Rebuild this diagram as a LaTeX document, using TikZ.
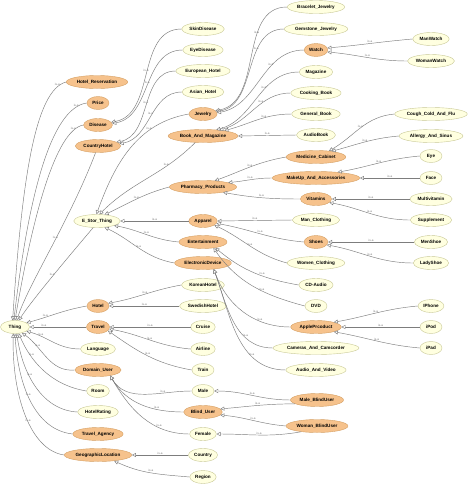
\documentclass[tikz,border=0pt]{standalone}
\usepackage{fontspec}
\setmainfont{Liberation Sans}
\usetikzlibrary{shapes,arrows.meta,positioning,calc}
\definecolor{clsfill}{RGB}{246,194,140}
\definecolor{clsdraw}{RGB}{214,160,100}
\definecolor{leaffill}{RGB}{255,255,224}
\definecolor{leafdraw}{RGB}{200,200,150}
\definecolor{edgegray}{RGB}{125,125,125}

\tikzset{
  base/.style={ellipse,inner xsep=1.5pt,inner ysep=0.5pt,minimum height=13pt,minimum width=22pt,
    font=\fontsize{4.6}{5}\selectfont\bfseries},
  cls/.style={base,draw=clsdraw,fill=clsfill},
  leaf/.style={base,draw=leafdraw,fill=leaffill},
  isa/.style={draw=edgegray,line width=0.45pt,-{Triangle[open,length=4pt,width=4pt,fill=white]}},
  lbl/.style={font=\fontsize{3}{3}\selectfont,text=edgegray,inner sep=0.6pt,above}
}

\begin{document}
\begin{tikzpicture}[x=1pt,y=-1pt]
\fill[white] (0,0) rectangle (474,488);

% root
\node[leaf,minimum width=29pt] (thing) at (15,327) {Thing};

% first level
\node[cls] (hres) at (97,82) {Hotel\_Reservation};
\node[cls] (price) at (98,103) {Price};
\node[cls] (disease) at (98,125) {Disease};
\node[cls] (chotel) at (98,146) {CountryHotel};
\node[leaf] (estor) at (97,221) {E\_Stor\_Thing};
\node[cls] (hotel) at (98,306) {Hotel};
\node[cls] (travel) at (98,327) {Travel};
\node[leaf] (lang) at (98,349) {Language};
\node[cls] (duser) at (98,370) {Domain\_User};
\node[leaf] (room) at (98,391) {Room};
\node[leaf] (hrating) at (98,412) {HotelRating};
\node[cls] (tagency) at (98,434) {Travel\_Agency};
\node[cls] (geo) at (98,455) {GeographicLocation};

% second level
\node[leaf] (skin) at (203,29) {SkinDisease};
\node[leaf] (eyed) at (203,50) {EyeDisease};
\node[leaf] (euro) at (203,71) {European\_Hotel};
\node[leaf] (asian) at (203,92) {Asian\_Hotel};
\node[cls] (jewel) at (203,114) {Jewelry};
\node[cls] (bam) at (203,136) {Book\_And\_Magazine};
\node[cls] (pharm) at (203,187) {Pharmacy\_Products};
\node[cls] (apparel) at (203,221) {Apparel};
\node[cls] (ent) at (203,242) {Entertainment};
\node[cls] (edev) at (203,263) {ElectronicDevice};
\node[leaf] (korean) at (203,285) {KoreanHotel};
\node[leaf] (swedish) at (203,306) {SwedishHotel};
\node[leaf] (cruise) at (203,327) {Cruise};
\node[leaf] (airline) at (203,349) {Airline};
\node[leaf] (train) at (203,370) {Train};
\node[leaf] (male) at (203,391) {Male};
\node[cls] (blind) at (203,412) {Blind\_User};
\node[leaf] (female) at (203,434) {Female};
\node[leaf] (country) at (203,455) {Country};
\node[leaf] (region) at (203,477) {Region};

% third level
\node[leaf] (bracelet) at (316,7) {Bracelet\_Jewelry};
\node[leaf] (gem) at (316,29) {Gemstone\_Jewelry};
\node[cls] (watch) at (316,50) {Watch};
\node[leaf] (magazine) at (316,72) {Magazine};
\node[leaf] (cooking) at (316,93) {Cooking\_Book};
\node[leaf] (general) at (316,114) {General\_Book};
\node[leaf] (audiobook) at (316,135) {AudioBook};
\node[cls] (medcab) at (316,157) {Medicine\_Cabinet};
\node[cls] (makeup) at (316,178) {MakeUp\_And\_Accessories};
\node[cls] (vitamins) at (316,199) {Vitamins};
\node[leaf] (manclo) at (316,220) {Man\_Clothing};
\node[cls] (shoes) at (316,242) {Shoes};
\node[leaf] (womclo) at (316,263) {Women\_Clothing};
\node[leaf] (cdaudio) at (316,285) {CD-Audio};
\node[leaf] (dvd) at (316,306) {DVD};
\node[cls] (apple) at (316,327) {ApplePrcoduct};
\node[leaf] (cameras) at (316,348) {Cameras\_And\_Camcorder};
\node[leaf] (audvid) at (316,370) {Audio\_And\_Video};
\node[cls] (mbu) at (317,400) {Male\_BlindUser};
\node[cls] (wbu) at (317,426) {Woman\_BlindUser};

% fourth level
\node[leaf] (manwatch) at (431,39) {ManWatch};
\node[leaf] (womanwatch) at (431,61) {WomanWatch};
\node[leaf] (cough) at (431,114) {Cough\_Cold\_And\_Flu};
\node[leaf] (allergy) at (431,136) {Allergy\_And\_Sinus};
\node[leaf] (eye) at (431,156) {Eye};
\node[leaf] (face) at (431,178) {Face};
\node[leaf] (multivit) at (431,199) {Multivitamin};
\node[leaf] (supp) at (431,220) {Supplement};
\node[leaf] (menshoe) at (431,242) {MenShoe};
\node[leaf] (ladyshoe) at (431,263) {LadyShoe};
\node[leaf] (iphone) at (431,306) {IPhone};
\node[leaf] (ipod) at (431,327) {iPod};
\node[leaf] (ipad) at (431,348) {iPad};

% is-a links to Thing
\draw[isa] (hres.west) .. controls (35,90) and (22,180) .. node[lbl,pos=0.1]{is-a} (thing.110);
\draw[isa] (price.west) .. controls (50,108) and (28,200) .. node[lbl,pos=0.1]{is-a} (thing.100);
\draw[isa] (disease.west) .. controls (55,130) and (32,220) .. node[lbl,pos=0.12]{is-a} (thing.90);
\draw[isa] (chotel.250) .. controls (70,220) and (28,285) .. node[lbl,pos=0.45]{is-a} (thing.75);
\draw[isa] (estor.240) .. controls (70,255) and (32,300) .. node[lbl,pos=0.5]{is-a} (thing.60);
\draw[isa] (hotel.west) to[out=190,in=15] node[lbl,pos=0.7]{is-a} (thing.20);
\draw[isa] (travel.west) -- node[lbl,pos=0.75]{is-a} (thing.east);
\draw[isa] (lang.west) to[out=180,in=-15] node[lbl,pos=0.75]{is-a} (thing.-20);
\draw[isa] (duser.west) to[out=185,in=-35] node[lbl,pos=0.7]{is-a} (thing.-40);
\draw[isa] (room.west) .. controls (50,385) and (30,360) .. node[lbl,pos=0.7]{is-a} (thing.-60);
\draw[isa] (hrating.west) .. controls (40,410) and (22,370) .. node[lbl,pos=0.6]{is-a} (thing.-75);
\draw[isa] (tagency.west) .. controls (35,430) and (18,385) .. node[lbl,pos=0.55]{is-a} (thing.-90);
\draw[isa] (geo.west) .. controls (30,450) and (12,395) .. node[lbl,pos=0.45]{is-a} (thing.-105);

% second level links
\foreach \c/\a in {skin/12,eyed/6} \draw[isa] (\c.west) to[out=180,in=10] node[lbl]{is-a} (disease.\a);
\foreach \c/\a in {euro/12,asian/6} \draw[isa] (\c.west) to[out=180,in=10] node[lbl]{is-a} (chotel.\a);
\draw[isa] (jewel.west) to[out=190,in=70] node[lbl,pos=0.3]{is-a} (estor.95);
\draw[isa] (bam.220) to[out=225,in=45] node[lbl,pos=0.3]{is-a} (estor.70);
\draw[isa] (pharm.west) to[out=195,in=25] node[lbl]{is-a} (estor.40);
\draw[isa] (apparel.west) -- node[lbl]{is-a} (estor.east);
\draw[isa] (ent.west) to[out=175,in=-10] node[lbl]{is-a} (estor.-15);
\draw[isa] (edev.west) to[out=170,in=-25] node[lbl]{is-a} (estor.-40);
\draw[isa] (korean.west) to[out=190,in=10] node[lbl]{is-a} (hotel.15);
\draw[isa] (swedish.west) -- node[lbl]{is-a} (hotel.east);
\draw[isa] (cruise.west) -- node[lbl]{is-a} (travel.east);
\draw[isa] (airline.west) to[out=175,in=-10] node[lbl]{is-a} (travel.-10);
\draw[isa] (train.west) to[out=170,in=-35] node[lbl]{is-a} (travel.-20);
\foreach \c in {male,blind,female} \draw[isa] (\c.west) to[out=180,in=-60] node[lbl,pos=0.3]{is-a} (duser.-25);
\draw[isa] (country.west) -- node[lbl]{is-a} (geo.east);
\draw[isa] (region.west) to[out=175,in=-25] node[lbl]{is-a} (geo.-20);

% third level links
\foreach \c/\a in {bracelet/15,gem/10,watch/5} \draw[isa] (\c.west) to[out=180,in=10] node[lbl,pos=0.35]{is-a} (jewel.\a);
\foreach \c/\a in {magazine/25,cooking/20,general/14} \draw[isa] (\c.west) to[out=180,in=15] node[lbl,pos=0.4]{is-a} (bam.\a);
\draw[isa] (audiobook.west) -- node[lbl]{is-a} (bam.east);
\draw[isa] (medcab.west) to[out=190,in=20] node[lbl]{is-a} (pharm.28);
\draw[isa] (makeup.west) to[out=180,in=5] node[lbl]{is-a} (pharm.10);
\draw[isa] (vitamins.west) to[out=180,in=-10] node[lbl]{is-a} (pharm.-15);
\draw[isa] (manclo.west) -- node[lbl]{is-a} (apparel.east);
\draw[isa] (shoes.west) to[out=175,in=-10] node[lbl]{is-a} (apparel.-10);
\draw[isa] (womclo.west) to[out=165,in=-25] node[lbl]{is-a} (apparel.-20);
\draw[isa] (cdaudio.west) to[out=170,in=-40] node[lbl,pos=0.4]{is-a} (ent.-25);
\draw[isa] (dvd.west) to[out=165,in=-55] node[lbl,pos=0.4]{is-a} (ent.-30);
\foreach \c in {apple,cameras,audvid} \draw[isa] (\c.west) to[out=180,in=-70] node[lbl,pos=0.3]{is-a} (edev.-30);
\draw[isa] (mbu.west) to[out=180,in=0] node[lbl]{is-a} (male.east);
\draw[isa] (mbu.190) to[out=180,in=5] node[lbl]{is-a} (blind.10);
\draw[isa] (wbu.west) to[out=175,in=-5] node[lbl]{is-a} (blind.-10);
\draw[isa] (wbu.200) to[out=190,in=0] node[lbl]{is-a} (female.east);

% fourth level links
\draw[isa] (manwatch.west) to[out=185,in=5] node[lbl]{is-a} (watch.10);
\draw[isa] (womanwatch.west) to[out=180,in=-5] node[lbl]{is-a} (watch.-10);
\draw[isa] (cough.west) to[out=185,in=30] node[lbl]{is-a} (medcab.25);
\draw[isa] (allergy.west) to[out=185,in=15] node[lbl]{is-a} (medcab.20);
\draw[isa] (eye.west) to[out=185,in=10] node[lbl]{is-a} (makeup.15);
\draw[isa] (face.west) -- node[lbl]{is-a} (makeup.east);
\draw[isa] (multivit.west) -- node[lbl]{is-a} (vitamins.east);
\draw[isa] (supp.west) to[out=180,in=-10] node[lbl]{is-a} (vitamins.-15);
\draw[isa] (menshoe.west) -- node[lbl]{is-a} (shoes.east);
\draw[isa] (ladyshoe.west) to[out=180,in=-10] node[lbl]{is-a} (shoes.-15);
\draw[isa] (iphone.west) to[out=185,in=10] node[lbl]{is-a} (apple.15);
\draw[isa] (ipod.west) -- node[lbl]{is-a} (apple.east);
\draw[isa] (ipad.west) to[out=175,in=-10] node[lbl]{is-a} (apple.-15);
\end{tikzpicture}
\end{document}
